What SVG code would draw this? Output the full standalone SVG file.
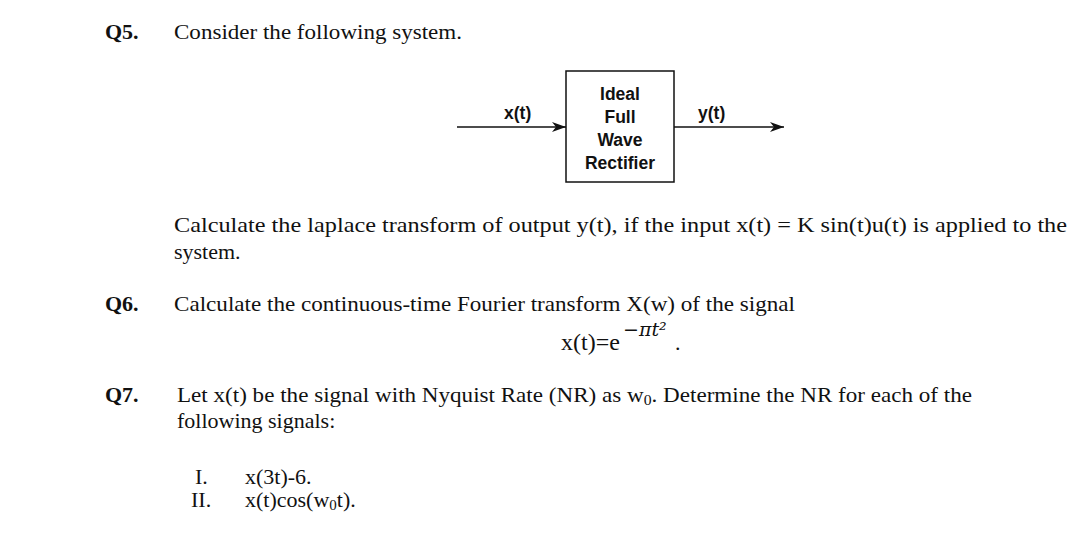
<svg xmlns="http://www.w3.org/2000/svg" width="1080" height="557" viewBox="0 0 1080 557">
<style>
.t{font-family:"Liberation Serif",serif;font-size:22px;fill:#111}
.b{font-weight:bold}
.s{font-family:"Liberation Sans",Arial,sans-serif;font-size:17.5px;font-weight:bold;fill:#111}
.sub{font-size:15px}
</style>
<defs><marker id="a" markerWidth="14" markerHeight="10" refX="14" refY="5" orient="auto" markerUnits="userSpaceOnUse"><path d="M0,0 L14,5 L0,10 L4,5 Z" fill="#111"/></marker></defs>
<rect width="1080" height="557" fill="#fff"/>
<text class="t b" x="105" y="39">Q5.</text>
<text class="t" x="174" y="39" textLength="288" lengthAdjust="spacingAndGlyphs">Consider the following system.</text>
<g id="connectors" stroke="#111" stroke-width="1.6" fill="none">
<line x1="457" y1="127" x2="566" y2="127" marker-end="url(#a)"/>
<line x1="674" y1="127" x2="784" y2="127" marker-end="url(#a)"/>
</g>
<g id="rectifier">
<rect x="566" y="71" width="108" height="111" fill="#fff" stroke="#111" stroke-width="1.5"/>
<text class="s" text-anchor="middle" x="620" y="100">Ideal</text>
<text class="s" text-anchor="middle" x="620" y="123">Full</text>
<text class="s" text-anchor="middle" x="620" y="146">Wave</text>
<text class="s" text-anchor="middle" x="620" y="169">Rectifier</text>
</g>
<text class="s" x="504" y="119">x(t)</text>
<text class="s" x="698" y="119">y(t)</text>
<text class="t" x="174" y="232" textLength="893" lengthAdjust="spacingAndGlyphs">Calculate the laplace transform of output y(t), if the input x(t) = K sin(t)u(t) is applied to the</text>
<text class="t" x="174" y="259">system.</text>
<text class="t b" x="105" y="311">Q6.</text>
<text class="t" x="174" y="311" textLength="621" lengthAdjust="spacingAndGlyphs">Calculate the continuous-time Fourier transform X(w) of the signal</text>
<text class="t" x="561" y="350" style="font-size:24px">x(t)=e</text>
<text x="623" y="336" style="font-family:'DejaVu Serif',serif;font-size:19px;font-style:italic;fill:#111">−πt²</text>
<text class="t" x="675" y="350">.</text>
<text class="t b" x="105" y="402">Q7.</text>
<text class="t" x="177" y="402" textLength="795" lengthAdjust="spacingAndGlyphs">Let x(t) be the signal with Nyquist Rate (NR) as w<tspan class="sub" dy="3">0</tspan><tspan dy="-3">. Determine the NR for each of the</tspan></text>
<text class="t" x="177" y="428">following signals:</text>
<text class="t" x="195" y="484">I.</text>
<text class="t" x="245" y="484">x(3t)-6.</text>
<text class="t" x="191" y="507">II.</text>
<text class="t" x="245" y="507">x(t)cos(w<tspan class="sub" dy="3">0</tspan><tspan dy="-3">t).</tspan></text>
</svg>
